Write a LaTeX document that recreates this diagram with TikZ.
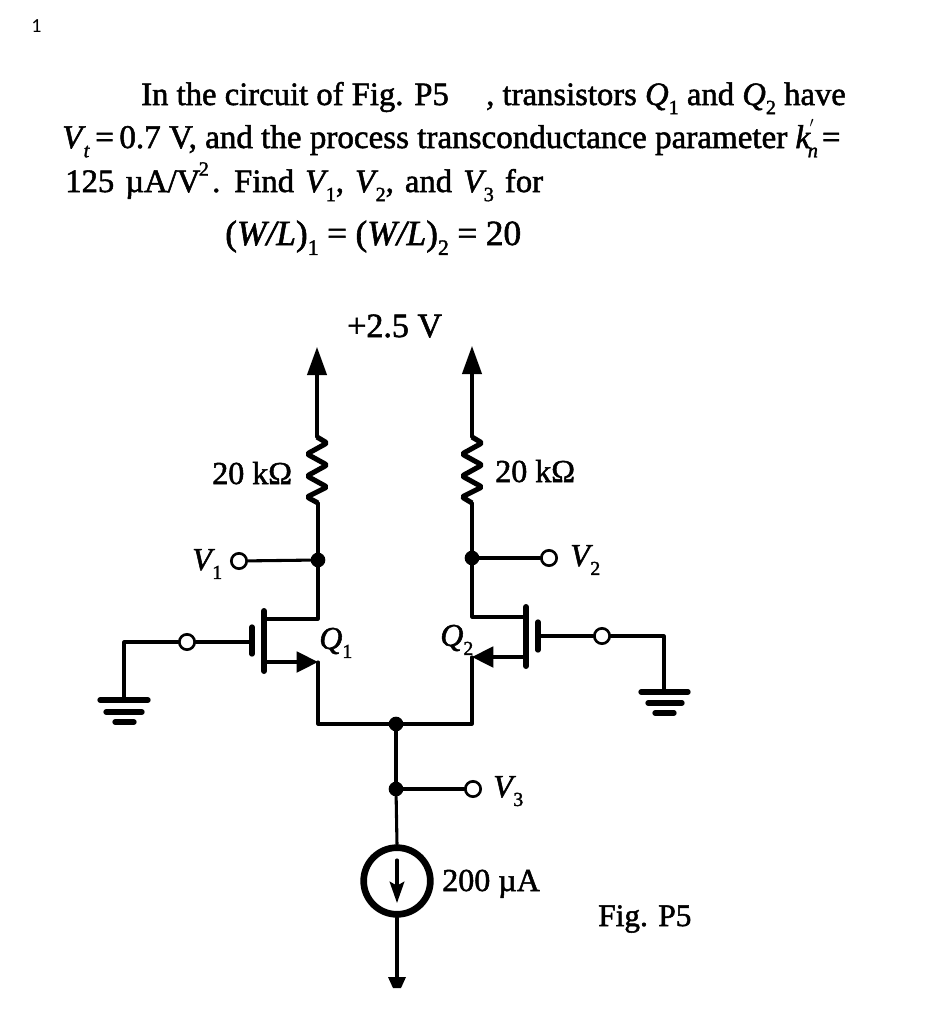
\documentclass[tikz,border=0pt]{standalone}
\usepackage{fontspec}
\usetikzlibrary{arrows.meta}
\setmainfont[FakeBold=1.6,ItalicFont={Liberation Serif Italic},ItalicFeatures={FakeBold=1.6}]{Liberation Serif}
\newfontfamily\pagenum{Carlito}
\newcommand{\sbs}[1]{\raisebox{-.28em}{\fontsize{.62em}{.7em}\selectfont\upshape #1}}
\newcommand{\vv}[1]{\textit{V}\kern-.08em\sbs{#1}}
\begin{document}
\begin{tikzpicture}[x=.75pt,y=-.75pt,
  wire/.style={line width=2.3pt,line cap=round,line join=round},
  heavy/.style={line width=4.5pt,line cap=round},
  bar/.style={line width=4pt,line cap=round},
  dotnode/.style={circle,fill=black,inner sep=0pt,minimum size=11pt},
  term/.style={circle,draw=black,line width=2pt,fill=white,inner sep=0pt,minimum size=11.5pt},
  ptxt/.style={font=\fontsize{24.5pt}{26pt}\selectfont,anchor=base west,inner sep=0pt},
  lbl/.style={font=\fontsize{24pt}{26pt}\selectfont,anchor=base west,inner sep=0pt},
  headup/.style={-{Triangle[length=21pt,width=14.5pt]}},
  headsrc/.style={-{Triangle[length=16pt,width=15.5pt]}},
  headcur/.style={-{Stealth[length=16pt,width=11pt,inset=3pt]}},
  res/.style={line width=3.8pt,line join=round,rounded corners=1.5pt}]
\useasboundingbox (0,0) rectangle (933,1024);
\fill[white] (0,0) rectangle (933,1024);

\node[anchor=base west,inner sep=0pt,font=\pagenum\fontsize{15pt}{17pt}\selectfont] (pg) at (31,33) {1};

\node[ptxt] (t1a) at (141,105) {In the circuit of Fig. P5};
\node[ptxt] (t1b) at (486,105) {, transistors \textit{Q}\sbs{1} and \textit{Q}\sbs{2} have};
\node[ptxt,font=\fontsize{24.8pt}{26pt}\selectfont] (t2) at (62,148) {\textit{V}\kern-.06em\sbs{\textit{t}}\,=\,0.7 V, and the process transconductance parameter \textit{k}\raisebox{.42em}{\fontsize{.62em}{.7em}\selectfont\kern-.05em$'$}\kern-.2em\sbs{\textit{n}}\kern.12em=};
\node[ptxt] (t3) at (65,192) {\spaceskip=.34em 125 µA/V\kern-.05em\raisebox{.5em}{\fontsize{.62em}{.7em}\selectfont 2}\kern.1em. Find \vv{1}, \vv{2}, and \vv{3} for};
\node[ptxt,font=\fontsize{26.5pt}{28pt}\selectfont] (t4) at (225,245) {(\textit{W/L})\sbs{1}\kern.24em=\kern.24em(\textit{W/L})\sbs{2}\kern.24em=\kern.24em20};

% supply
\node[lbl,font=\fontsize{25.5pt}{27pt}\selectfont] (vdd) at (347,337) {+2.5 V};
\coordinate (ua) at (317,347);
\coordinate (ub) at (472,346);
\coordinate (ra1) at (317,437);
\coordinate (rb1) at (472,437);
\coordinate (ra2) at (318,503);
\coordinate (rb2) at (472,503);
\draw[wire,headup] (ra1) -- (ua);
\draw[wire,headup] (rb1) -- (ub);
\draw[res] (ra1) -- (327,443) -- (307,454) -- (327,465) -- (307,476) -- (327,487) -- (307,497) -- (ra2);
\draw[res] (rb1) -- (482,443) -- (462,454) -- (482,465) -- (462,476) -- (482,487) -- (462,497) -- (rb2);
\node[lbl] (ra) at (212,484) {20 kΩ};
\node[lbl] (rb) at (495,482) {20 kΩ};

% junctions and terminals
\node[dotnode] (ja) at (318,560) {};
\node[dotnode] (jb) at (472,558) {};
\node[term] (v1) at (239,561) {};
\node[term] (v2) at (549,558) {};
\node[lbl] (lv1) at (192,570) {\vv{1}};
\node[lbl] (lv2) at (570,566) {\vv{2}};
\draw[wire] (ra2) -- (ja);
\draw[wire] (rb2) -- (jb);
\draw[wire] (v1) -- (ja);
\draw[wire] (v2) -- (jb);

% Q1
\coordinate (cha) at (264,619);
\coordinate (sra) at (264,662);
\coordinate (tipa) at (318,662);
\coordinate (gpa) at (252,642);
\node[term] (ga) at (187,642) {};
\coordinate (gca) at (124,642);
\coordinate (gnda) at (124,700);
\draw[heavy] (264,611) -- (264,671);
\draw[bar] (252,627) -- (252,654);
\draw[wire] (cha) -- (318,619) -- (ja);
\draw[wire] (gpa) -- (ga);
\draw[wire] (ga) -- (gca) -- (gnda);
\draw[wire,headsrc] (sra) -- (tipa);
\draw[bar] (100,700) -- (148,700);
\draw[bar] (106,712) -- (142,712);
\draw[bar] (115,722) -- (134,722);
\node[lbl] (q1) at (319,649) {\textit{Q}\sbs{1}};

% Q2
\coordinate (chb) at (526,617);
\coordinate (srb) at (526,657);
\coordinate (tipb) at (472,657);
\coordinate (gpb) at (538,636);
\node[term] (gb) at (602,636) {};
\coordinate (gcb) at (664,636);
\coordinate (gndb) at (664,692);
\draw[heavy] (526,607) -- (526,666);
\draw[bar] (538,622) -- (538,650);
\draw[wire] (chb) -- (472,617) -- (jb);
\draw[wire] (gpb) -- (gb);
\draw[wire] (gb) -- (gcb) -- (gndb);
\draw[wire,headsrc] (srb) -- (tipb);
\draw[bar] (641,692) -- (688,692);
\draw[bar] (648,703) -- (682,703);
\draw[bar] (655,713) -- (674,713);
\node[lbl] (q2) at (440,646) {\textit{Q}\sbs{2}};

% tail
\node[dotnode] (jc) at (396,724) {};
\node[dotnode] (jd) at (396,789) {};
\node[term] (v3) at (473,789) {};
\node[lbl] (lv3) at (493,797) {\vv{3}};
\node[circle,draw=black,line width=5pt,fill=white,inner sep=0pt,minimum size=50pt] (cs) at (397,881) {};
\coordinate (bot) at (397,978);
\draw[wire] (tipa) -- (318,724) -- (jc);
\draw[wire] (tipb) -- (472,724) -- (jc);
\draw[wire] (jc) -- (jd);
\draw[wire] (jd) -- (v3);
\draw[wire] (jd) -- (cs.north);
\draw[wire] (cs.south) -- (bot);
\draw[wire,headcur] (397,860) -- (397,903);
\fill (388,977) -- (406,977) -- (401,988) -- (393,988) -- cycle;
\node[lbl] (ia) at (442,891) {200 µA};
\node[lbl,font=\fontsize{23.5pt}{26pt}\selectfont] (fig) at (598,926) {Fig. P5};
\end{tikzpicture}
\end{document}
